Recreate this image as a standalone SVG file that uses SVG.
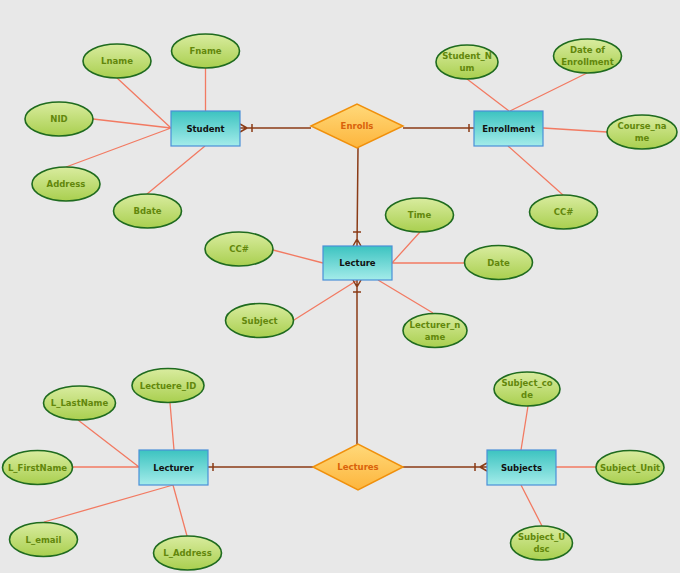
<svg xmlns="http://www.w3.org/2000/svg" width="680" height="573" viewBox="0 0 680 573">
<defs>
<linearGradient id="gAttr" x1="0" y1="0" x2="0" y2="1"><stop offset="0" stop-color="#d9ec9f"/><stop offset="1" stop-color="#a9cf4f"/></linearGradient>
<linearGradient id="gEnt" x1="0" y1="0" x2="0" y2="1"><stop offset="0" stop-color="#3cc3c0"/><stop offset="1" stop-color="#a4ecea"/></linearGradient>
<linearGradient id="gRel" x1="0" y1="0" x2="0" y2="1"><stop offset="0" stop-color="#ffd97a"/><stop offset="1" stop-color="#fdb53c"/></linearGradient>
<style>
.attr ellipse{fill:url(#gAttr);stroke:#1f6b1f;stroke-width:1.6}
.attr text{font-family:"DejaVu Sans",Verdana,sans-serif;font-size:8.5px;font-weight:bold;fill:#62870c;text-anchor:middle}
.ent rect{fill:url(#gEnt);stroke:#4a8fd8;stroke-width:1.2}
.ent text{font-family:"DejaVu Sans",Verdana,sans-serif;font-size:8.5px;font-weight:bold;fill:#111;text-anchor:middle}
.rel polygon{fill:url(#gRel);stroke:#f0900c;stroke-width:1.5}
.rel text{font-family:"DejaVu Sans",Verdana,sans-serif;font-size:8.5px;font-weight:bold;fill:#d9620a;text-anchor:middle}
.al{stroke:#f27a62;stroke-width:1.3;fill:none}
.rl{stroke:#8a3b16;stroke-width:1.5;fill:none}
</style>
</defs>
<rect width="680" height="573" fill="#e8e8e8"/>
<g id="connectors">
<!-- attribute lines -->
<path class="al" d="M117 78L171 128M205.5 68V111M93 119L171 128M66 167L171 128M147 194L205 146"/>
<path class="al" d="M467 79L509 111M587 73L510 111M543 128L607 132M508 146L563 195"/>
<path class="al" d="M420 232L392 263M273 250L323 263M392 263H464M294 320L356 281M378 280L433 313"/>
<path class="al" d="M170 403L174 450M78 420L139 467M72 467H139M44 522L173 485M173 485L187 536"/>
<path class="al" d="M528 406L521 450M556 467H596M521 485L542 526"/>
<!-- relationship lines -->
<path class="rl" d="M240 128H311M247 128L240 124M247 128L240 132M252 124V132"/>
<path class="rl" d="M403 128H474M469 124V132"/>
<path class="rl" d="M358 148L357 246M357 239L353 246M357 239L361 246M353 232H361"/>
<path class="rl" d="M357 280V444M357 287L353 280M357 287L361 280M353 292H361"/>
<path class="rl" d="M208 467H313M213 463V471"/>
<path class="rl" d="M403 467H487M480 467L487 463M480 467L487 471M475 463V471"/>
</g>
<g id="Student" class="ent"><rect x="171" y="111" width="69" height="35"/><text x="205.5" y="131.5">Student</text></g>
<g id="Enrollment" class="ent"><rect x="474" y="111" width="69" height="35"/><text x="508.5" y="131.5">Enrollment</text></g>
<g id="Lecture" class="ent"><rect x="323" y="246" width="69" height="34"/><text x="357.5" y="266">Lecture</text></g>
<g id="Lecturer" class="ent"><rect x="139" y="450" width="69" height="35"/><text x="173.5" y="470.5">Lecturer</text></g>
<g id="Subjects" class="ent"><rect x="487" y="450" width="69" height="35"/><text x="521.5" y="470.5">Subjects</text></g>
<g id="Enrolls" class="rel"><polygon points="311,126 357,104 403,126 357,148"/><text x="357" y="129">Enrolls</text></g>
<g id="Lectures" class="rel"><polygon points="313,467 358,444 403,467 358,490"/><text x="358" y="470">Lectures</text></g>
<g id="Lname" class="attr"><ellipse cx="117" cy="61" rx="34" ry="17"/><text x="117" y="64">Lname</text></g>
<g id="Fname" class="attr"><ellipse cx="205.5" cy="51" rx="34" ry="17"/><text x="205.5" y="54">Fname</text></g>
<g id="NID" class="attr"><ellipse cx="59" cy="119" rx="34" ry="17"/><text x="59" y="122">NID</text></g>
<g id="Address" class="attr"><ellipse cx="66" cy="184" rx="34" ry="17"/><text x="66" y="187">Address</text></g>
<g id="Bdate" class="attr"><ellipse cx="147.5" cy="211" rx="34" ry="17"/><text x="147.5" y="214">Bdate</text></g>
<g id="Student_Num" class="attr"><ellipse cx="467" cy="62" rx="31" ry="17"/><text x="467" y="59">Student_N</text><text x="467" y="71">um</text></g>
<g id="DateOfEnrollment" class="attr"><ellipse cx="587.5" cy="56" rx="34" ry="17"/><text x="587.5" y="53">Date of</text><text x="587.5" y="65">Enrollment</text></g>
<g id="Course_name" class="attr"><ellipse cx="642" cy="132" rx="35" ry="17"/><text x="642" y="129">Course_na</text><text x="642" y="141">me</text></g>
<g id="CC1" class="attr"><ellipse cx="563.5" cy="212" rx="34" ry="17"/><text x="563.5" y="215">CC#</text></g>
<g id="Time" class="attr"><ellipse cx="419.5" cy="215" rx="34" ry="17"/><text x="419.5" y="218">Time</text></g>
<g id="CC2" class="attr"><ellipse cx="239" cy="249" rx="34" ry="17"/><text x="239" y="252">CC#</text></g>
<g id="Date" class="attr"><ellipse cx="498.5" cy="262.5" rx="34" ry="17"/><text x="498.5" y="265.5">Date</text></g>
<g id="Subject" class="attr"><ellipse cx="259.5" cy="320.5" rx="34" ry="17"/><text x="259.5" y="323.5">Subject</text></g>
<g id="Lecturer_name" class="attr"><ellipse cx="435" cy="330.5" rx="32" ry="17"/><text x="435" y="327.5">Lecturer_n</text><text x="435" y="339.5">ame</text></g>
<g id="Lectuere_ID" class="attr"><ellipse cx="168" cy="385.5" rx="36" ry="17"/><text x="168" y="388.5">Lectuere_ID</text></g>
<g id="L_LastName" class="attr"><ellipse cx="79.5" cy="403" rx="36" ry="17"/><text x="79.5" y="406">L_LastName</text></g>
<g id="L_FirstName" class="attr"><ellipse cx="37.5" cy="467.5" rx="35" ry="17"/><text x="37.5" y="470.5">L_FirstName</text></g>
<g id="L_email" class="attr"><ellipse cx="43.5" cy="539.5" rx="34" ry="17"/><text x="43.5" y="542.5">L_email</text></g>
<g id="L_Address" class="attr"><ellipse cx="187.5" cy="553" rx="34" ry="17"/><text x="187.5" y="556">L_Address</text></g>
<g id="Subject_code" class="attr"><ellipse cx="527" cy="389" rx="33" ry="17"/><text x="527" y="386">Subject_co</text><text x="527" y="398">de</text></g>
<g id="Subject_Unit" class="attr"><ellipse cx="630" cy="467.5" rx="34" ry="17"/><text x="630" y="470.5">Subject_Unit</text></g>
<g id="Subject_Udsc" class="attr"><ellipse cx="541.5" cy="543" rx="31" ry="17"/><text x="541.5" y="540">Subject_U</text><text x="541.5" y="552">dsc</text></g>
</svg>
